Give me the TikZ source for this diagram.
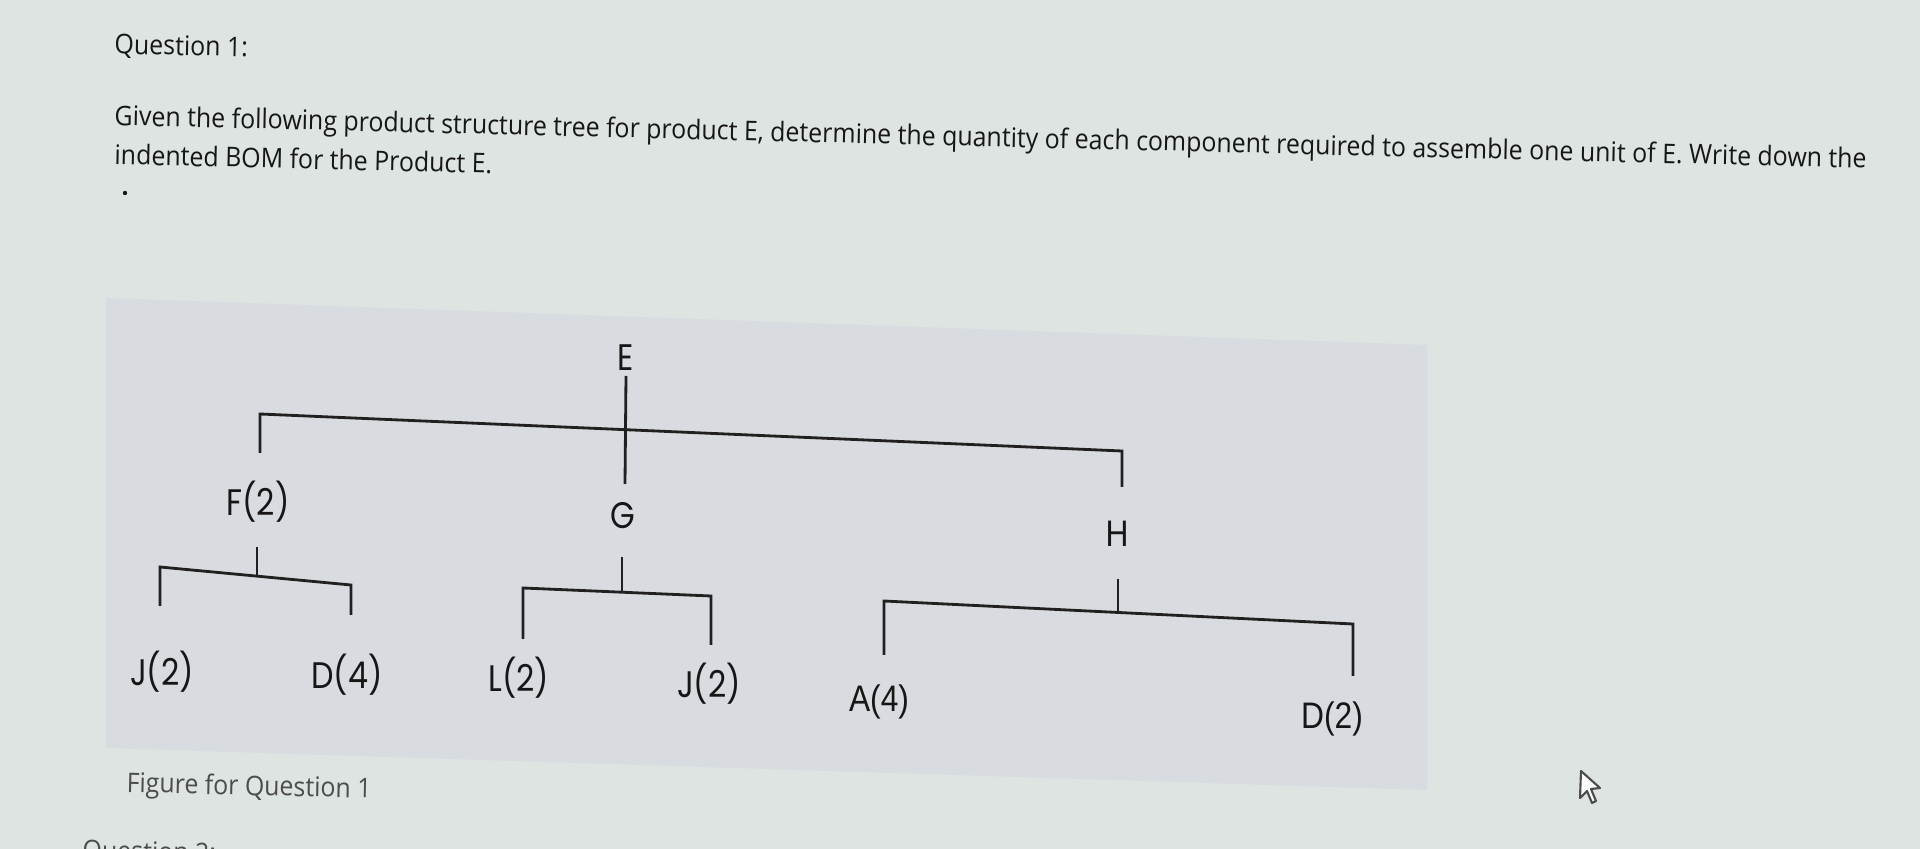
\documentclass[tikz,border=0pt]{standalone}
\usepackage{fontspec}
\setmainfont{Open Sans}
\newfontfamily\geofont{Poppins}
\newfontfamily\arialfont{Liberation Sans}
\definecolor{color_screen_bg}{HTML}{DEE4E2}
\definecolor{color_panel_bg}{HTML}{D8DBE0}
\definecolor{color_text}{HTML}{161616}
\definecolor{color_caption}{HTML}{4C4C4C}
\definecolor{color_tree_line}{HTML}{202020}
\def\treelinewidth{0.8pt}
\def\textslant{-1.3}
\def\labelsize{\fontsize{10.5}{12}\selectfont}
% stem from parent to bar, then bar with two drops
\def\bomfork(#1,#2,#3,#4,#5,#6){
    \draw[tree_line] (#1) -- (#2);
    \draw[tree_line] (#5) -- (#3) -- (#4) -- (#6);
}
\tikzset{
    tree_line/.style={color_tree_line,line width=\treelinewidth,line join=miter},
    bom_label/.style={color_text,inner sep=0pt,font=\geofont\labelsize,xscale=0.86},
    bom_label_arial/.style={bom_label,font=\arialfont\labelsize},
    page_text/.style={color_text,anchor=west,inner sep=0pt,font=\fontsize{7.7}{9}\selectfont,xscale=0.92,rotate=\textslant}
}

\begin{document}
\begin{tikzpicture}[x=0.01cm,y=-0.01cm]
        \useasboundingbox (0,0) rectangle (1920,849);
        \fill[color_screen_bg] (0,0) rectangle (1920,849);
        \fill[color_panel_bg] (106,298) -- (1427,345) -- (1427,790) -- (106,748) -- cycle;
        % question text
        \node[page_text] (q1) at (114,46) {Question 1:};
        \node[page_text] (para1) at (114,118) {Given the following product structure tree for product E, determine the quantity of each component required to assemble one unit of E. Write down the};
        \node[page_text] (para2) at (114,154) {indented BOM for the Product E.};
        \fill[color_text] (125,193) circle (2.2);
        % tree labels
        \node[bom_label] (E) at (626,358) {E};
        \node[bom_label] (F) at (258,502) {F(2)};
        \node[bom_label] (G) at (623,516) {G};
        \node[bom_label_arial] (H) at (1117,534) {H};
        \node[bom_label] (JF) at (162,672) {J(2)};
        \node[bom_label] (DF) at (347,675) {D(4)};
        \node[bom_label] (LG) at (519,678) {L(2)};
        \node[bom_label] (JG) at (709,684) {J(2)};
        \node[bom_label_arial] (AH) at (879,702) {A(4)};
        \node[bom_label_arial] (DH) at (1332,719) {D(2)};
        % level 1
        \coordinate (eTop) at (626,376);
        \coordinate (eBot) at (625,484);
        \coordinate (barEl) at (260,414);
        \coordinate (barEr) at (1122,451);
        \coordinate (fTop) at (260,453);
        \coordinate (hTop) at (1122,487);
        \draw[tree_line] (eTop) -- (eBot);
        \draw[tree_line] (fTop) -- (barEl) -- (barEr) -- (hTop);
        % level 2: F
        \coordinate (fStem) at (257,547);
        \coordinate (fJoin) at (257,576);
        \coordinate (barFl) at (160,567);
        \coordinate (barFr) at (351,585);
        \coordinate (jfTop) at (160,606);
        \coordinate (dfTop) at (351,615);
        \bomfork(fStem,fJoin,barFl,barFr,jfTop,dfTop)
        % level 2: G
        \coordinate (gStem) at (622,557);
        \coordinate (gJoin) at (622,592);
        \coordinate (barGl) at (523,588);
        \coordinate (barGr) at (711,596);
        \coordinate (lgTop) at (523,639);
        \coordinate (jgTop) at (711,645);
        \bomfork(gStem,gJoin,barGl,barGr,lgTop,jgTop)
        % level 2: H
        \coordinate (hStem) at (1118,579);
        \coordinate (hJoin) at (1118,613);
        \coordinate (barHl) at (884,601);
        \coordinate (barHr) at (1353,624);
        \coordinate (ahTop) at (884,655);
        \coordinate (dhTop) at (1353,676);
        \bomfork(hStem,hJoin,barHl,barHr,ahTop,dhTop)
        % caption and next question
        \node[page_text,color_caption] (caption) at (126,785) {Figure for Question 1};
        \begin{scope}
            \clip (0,0) rectangle (1920,849);
            \node[page_text,color_caption] (q2) at (82,852) {Question 2:};
        \end{scope}
        % mouse pointer
        \draw[color_caption,fill=white!85!color_screen_bg,line width=0.6pt,line join=round]
            (1581,771) -- (1580,798) -- (1587,791) -- (1592,803) -- (1596,801) -- (1591,789) -- (1600,788) -- cycle;
    \end{tikzpicture}
\end{document}
